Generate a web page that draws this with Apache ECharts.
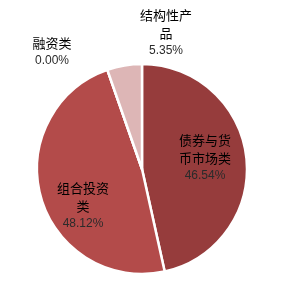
<!DOCTYPE html>
<html>
<head>
<meta charset="utf-8">
<script src="https://cdn.jsdelivr.net/npm/echarts@6/dist/echarts.min.js"></script>
<style>
html, body { margin: 0; padding: 0; background: #fff; }
#main { width: 284px; height: 283px; }
</style>
</head>
<body>
<div id="main"></div>
<script>
var names = ['债券与货币市场类', '组合投资类', '融资类', '结构性产品'];
var values = [46.54, 48.12, 0.00, 5.35];
var colors = ['#963c3c', '#b34b4a', '#c05050', '#ddb6b6'];

// 标签位置（手动摆放，跟原图一致）
var labelPos = [[205, 158], [83, 206], [52, 52], [166, 33]];

var myChart = echarts.init(document.getElementById('main'));

var pieData = names.map(function (n, i) {
	return {
		name: n,
		value: values[i],
		itemStyle: { color: colors[i] }
	};
});

// 每4个字换行
function wrapName(s) {
	var out = [];
	for (var i = 0; i < s.length; i += 4) {
		out.push('{n|' + s.slice(i, i + 4) + '}');
	}
	return out.join('\n');
}

var option = {
	animation: false,
	series: [{
		type: 'pie',
		center: [142, 169],
		radius: 105,
		startAngle: 90,
		clockwise: true,
		avoidLabelOverlap: false,
		itemStyle: {
			borderColor: '#fff',
			borderWidth: 2.5
		},
		label: {
			show: true,
			position: 'inside',
			formatter: function (p) {
				return wrapName(p.name) + '\n{p|' + p.value.toFixed(2) + '%}';
			},
			align: 'center',
			lineHeight: 18,
			fontFamily: 'Noto Sans CJK SC',
			fontSize: 13,
			color: '#000',
			rich: {
				n: { fontSize: 13, color: '#000', lineHeight: 18, fontFamily: 'Noto Sans CJK SC', align: 'center' },
				p: { fontSize: 12, color: '#2b2b2b', lineHeight: 18, fontFamily: 'Liberation Sans', align: 'center' }
			}
		},
		labelLine: { show: false },
		labelLayout: function (params) {
			var pos = labelPos[params.dataIndex];
			return {
				x: pos[0],
				y: pos[1],
				align: 'center',
				verticalAlign: 'middle'
			};
		},
		emphasis: { disabled: true },
		data: pieData
	}]
};

myChart.setOption(option);
</script>
</body>
</html>
